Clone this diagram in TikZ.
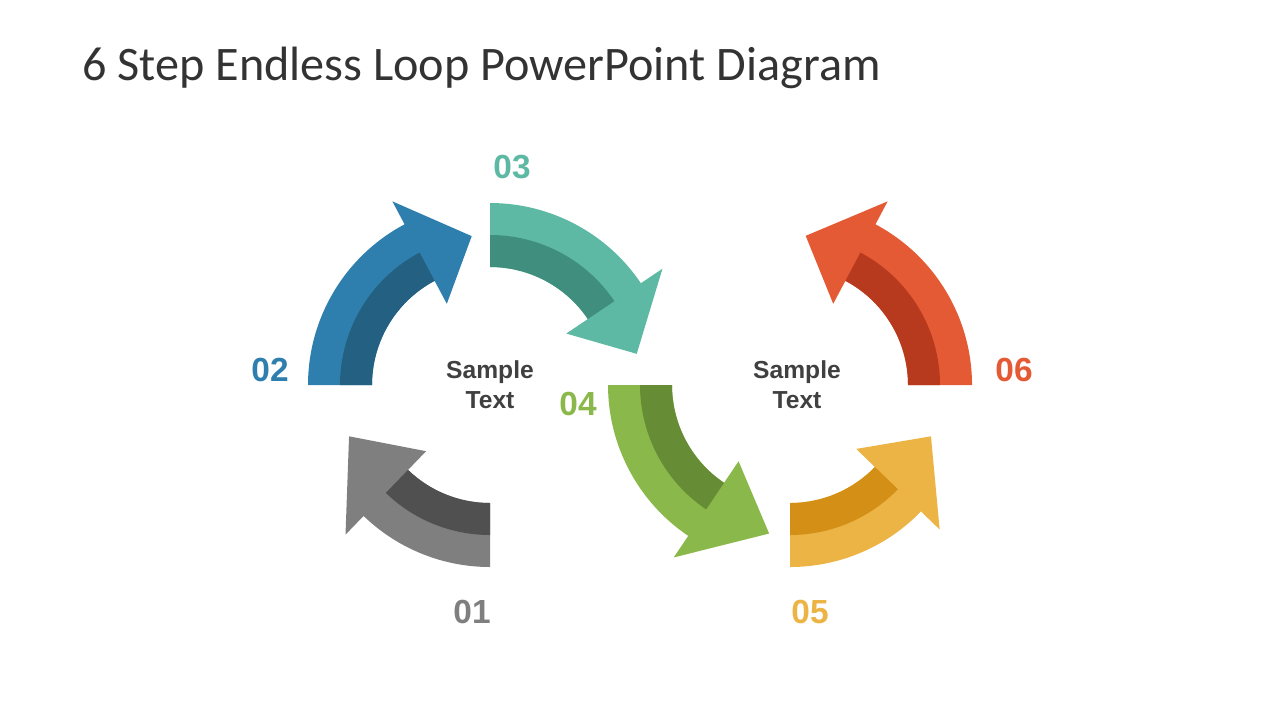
\documentclass[tikz,border=0pt]{standalone}
\usepackage{fontspec}
\setmainfont{Liberation Sans}
\newfontfamily\titlefont{Carlito}
\usetikzlibrary{calc}
\definecolor{grayL}{HTML}{7F7F7F}\definecolor{grayD}{HTML}{505050}
\definecolor{blueL}{HTML}{2E7FAD}\definecolor{blueD}{HTML}{236082}
\definecolor{tealL}{HTML}{5DB8A4}\definecolor{tealD}{HTML}{3F8E7E}
\definecolor{greenL}{HTML}{8BB84A}\definecolor{greenD}{HTML}{668C35}
\definecolor{yellowL}{HTML}{ECB445}\definecolor{yellowD}{HTML}{D49016}
\definecolor{redL}{HTML}{E35A35}\definecolor{redD}{HTML}{B83A1E}
% #1 centre, #2 start angle, #3 band end angle, #4 tip angle, #5 light, #6 dark
\newcommand\loopArrow[6]{%
  \fill[#5] ($(#1)+(#2:182)$) arc[start angle=#2,end angle=#3,radius=182]
    -- ($(#1)+(#3:208)$) -- ($(#1)+(#4:150)$) -- ($(#1)+(#3:92)$)
    -- ($(#1)+(#3:118)$) arc[start angle=#3,end angle=#2,radius=118] -- cycle;
  \fill[#6] ($(#1)+(#2:150)$) arc[start angle=#2,end angle=#3,radius=150]
    -- ($(#1)+(#3:118)$) arc[start angle=#3,end angle=#2,radius=118] -- cycle;}
\begin{document}
\begin{tikzpicture}[x=0.01cm,y=0.01cm,
  num/.style={font=\fontsize{9.5}{11}\selectfont\bfseries},
  sample/.style={font=\fontsize{7}{8.5}\selectfont\bfseries,text=black!75,align=center}]
  \useasboundingbox (0,0) rectangle (1280,720);
  \coordinate (cl) at (490,335);
  \coordinate (cr) at (790,335);

  \node[anchor=west,font=\titlefont\fontsize{13.7}{16}\selectfont,text=black!80] (title) at (70,652) {6 Step Endless Loop PowerPoint Diagram};

  % left loop
  \loopArrow{cl}{270}{226}{200}{grayL}{grayD}
  \loopArrow{cl}{180}{118}{97}{blueL}{blueD}
  \loopArrow{cl}{90}{34}{12}{tealL}{tealD}
  % right loop
  \loopArrow{cr}{180}{236}{262}{greenL}{greenD}
  \loopArrow{cr}{270}{316}{340}{yellowL}{yellowD}
  \loopArrow{cr}{0}{62}{84}{redL}{redD}

  \node[sample] (txtl) at (cl) {Sample\\Text};
  \node[sample] (txtr) at (797,335) {Sample\\Text};

  \node[num,text=grayL] (n1) at (472,108) {01};
  \node[num,text=blueL] (n2) at (270,350) {02};
  \node[num,text=tealL] (n3) at (512,553) {03};
  \node[num,text=greenL] (n4) at (578,316) {04};
  \node[num,text=yellowL] (n5) at (810,108) {05};
  \node[num,text=redL] (n6) at (1014,350) {06};
\end{tikzpicture}
\end{document}
